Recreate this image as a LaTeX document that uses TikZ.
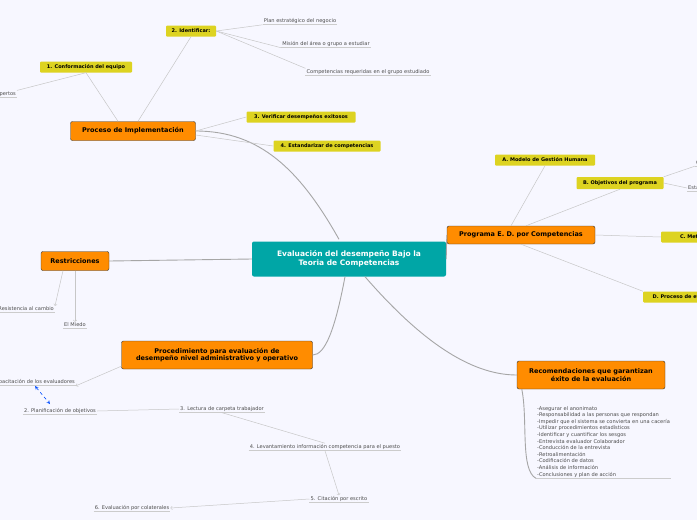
\documentclass[tikz,border=0pt]{standalone}
\usepackage{fontspec}
\setmainfont{DejaVu Sans}
\begin{document}
\begin{tikzpicture}[x=1pt,y=-1pt,
 main/.style={draw=black!80,fill=orange!90!yellow,rounded corners=2pt,font=\bfseries\fontsize{6.5}{7.7}\selectfont,align=center,inner sep=0pt},
 sub/.style={fill=yellow!85!black,rounded corners=1pt,font=\bfseries\fontsize{5}{6}\selectfont,inner sep=0pt},
 leaf/.style={font=\fontsize{5.1}{6}\selectfont,text=black!70,inner sep=1pt},
 ul/.style={draw=black!20,line width=0.8pt},
 ln/.style={draw=black!22,line width=0.5pt},
 thick ln/.style={draw=black!35,line width=0.9pt}]
\useasboundingbox (0,0) rectangle (697,520);
\fill[blue!3] (0,0) rectangle (697,520);
\clip (0,0) rectangle (697,520);
% centre
\node[fill={rgb,255:red,0;green,166;blue,166},text=white,rounded corners=2pt,minimum width=194pt,minimum height=35pt,align=center,font=\bfseries\fontsize{7.5}{9}\selectfont,inner sep=0pt] (c) at (349,259) {Evaluación del desempeño Bajo la\\Teoria de Competencias};
% main nodes
\node[main,minimum width=125pt,minimum height=19pt] (pi) at (133,131) {Proceso de Implementación};
\node[main,minimum width=148pt,minimum height=18pt] (pe) at (521,235) {Programa E. D. por Competencias};
\node[main,minimum width=68pt,minimum height=19pt] (re) at (75,261) {Restricciones};
\node[main,minimum width=191pt,minimum height=28pt] (pr) at (217,355) {Procedimiento para evaluación de\\desempeño nivel administrativo y operativo};
\node[main,minimum width=148pt,minimum height=28pt] (rc) at (591,375) {Recomendaciones que garantizan\\éxito de la evaluación};
% sub nodes
\node[sub,minimum width=92pt,minimum height=11pt] (s1) at (86,67) {1. Conformación del equipo};
\node[sub,minimum width=50pt,minimum height=11pt] (s2) at (191,31) {2. Identificar:};
\node[sub,minimum width=109pt,minimum height=11pt] (s3) at (301,117) {3. Verificar desempeños exitosos};
\node[sub,minimum width=107pt,minimum height=11pt] (s4) at (327,146) {4. Estandarizar de competencias};
\node[sub,minimum width=100pt,minimum height=11pt] (sa) at (545,160) {A. Modelo de Gestión Humana};
\node[sub,minimum width=87pt,minimum height=12pt] (sb) at (620,183) {B. Objetivos del programa};
\node[sub,minimum width=80pt,minimum height=11pt,anchor=west] (sc) at (661,237) {C. Metodología};
\node[sub,minimum width=90pt,minimum height=11pt,anchor=west] (sd) at (643,297) {D. Proceso de evaluación};
% leaves
\node[leaf,anchor=east] (l0) at (17,94) {Expertos};
\node[leaf] (l1) at (300,21) {Plan estratégico del negocio};
\node[leaf] (l2) at (326,44) {Misión del área o grupo a estudiar};
\node[leaf] (l3) at (368,72) {Competencias requeridas en el grupo estudiado};
\node[leaf,anchor=west] (b1) at (695,163) {Conocer};
\node[leaf,anchor=west] (b2) at (687,188) {Establecer};
\node[leaf,anchor=east] (r1) at (55,309) {Resistencia al cambio};
\node[leaf] (r2) at (75,325) {El Miedo};
\node[leaf,anchor=east] (p1) at (76,382) {1. Capacitación de los evaluadores};
\node[leaf] (p2) at (60,411) {2. Planificación de objetivos};
\node[leaf] (p3) at (222,409) {3. Lectura de carpeta trabajador};
\node[leaf] (p4) at (325,447) {4. Levantamiento información competencia para el puesto};
\node[leaf] (p5) at (339,499) {5. Citación por escrito};
\node[leaf] (p6) at (132,508) {6. Evaluación por colaterales};
\node[leaf,anchor=north west,align=left,font=\fontsize{5.1}{6.6}\selectfont] (lst) at (536,405) {-Asegurar el anonimato\\-Responsabilidad a las personas que respondan\\-Impedir que el sistema se convierta en una cacería\\-Utilizar procedimientos estadísticos\\-Identificar y cuantificar los sesgos\\-Entrevista evaluador Colaborador\\-Conducción de la entrevista\\-Retroalimentación\\-Codificación de datos\\-Análisis de información\\-Conclusiones y plan de acción};
% underlines
\foreach \n in {l0,l1,l2,l3,b1,b2,r1,r2,p1,p2,p3,p4,p5,p6} \draw[ul] (\n.south west) -- (\n.south east);
\draw[ul] (lst.south west) -- (lst.south east);
% main connectors
\draw[thick ln] (c.north) ++(-10,-2) coordinate (ca) (ca) .. controls (300,170) and (260,131) .. (pi.east);
\draw[thick ln] (c.west) -- (re.east);
\draw[thick ln] (c.south) ++(-4,0) coordinate (cb) (cb) .. controls (335,330) and (325,355) .. (pr.east);
\draw[thick ln] (c.east) -- (pe.west);
\draw[thick ln] (c.south) ++(16,0) coordinate (cc) (cc) .. controls (420,340) and (470,375) .. (rc.west);
\draw[thick ln] (rc.south west) ++(5,0) coordinate (cd) (cd) .. controls (528,420) and (520,470) .. (lst.south west);
% sub connectors
\draw[ln] (pi.north) ++(-15,0) coordinate (pa) (pa) -- (s1.south);
\draw[ln] (pi.north) ++(5,0) coordinate (pb) (pb) -- (s2.south);
\draw[ln] (pi.east) -- (s3.west);
\draw[ln] ([yshift=-4pt]pi.east) -- (s4.west);
\draw[ln] (s1.south) -- (l0.north east);
\draw[ln] (s2.east) -- (l1.south west);
\draw[ln] (s2.east) -- (l2.south west);
\draw[ln] (s2.east) -- (l3.north west);
\draw[ln] (pe.north) ++(-10,0) coordinate (pa2) (pa2) -- (sa.south);
\draw[ln] (pe.north) ++(5,0) coordinate (pb2) (pb2) -- (sb.south);
\draw[ln] (pe.east) -- (sc.west);
\draw[ln] (pe.south) -- (sd.north west);
\draw[ln] (sb.north east) -- (b1.south west);
\draw[ln] (sb.east) -- (b2.west);
\draw[ln,->] (re.south) ++(-12,0) coordinate (ra) (ra) -- (r1.north east);
\draw[ln,->] (re.south) -- (r2.north);
\draw[ln,->] (pr.south west) ++(0,-3) coordinate (pra) (pra) -- (p1.south east);
\draw[ln] (p2.east) -- (p3.west);
\draw[ln] (p3.south) -- (p4.north);
\draw[ln,->] (p4.south) -- (p5.north);
\draw[ln,->] (p5.west) -- (p6.east);
\draw[blue!70!cyan,dashed,<->,>=stealth,line width=0.6pt] (35,386) -- (50,404);
\end{tikzpicture}
\end{document}
